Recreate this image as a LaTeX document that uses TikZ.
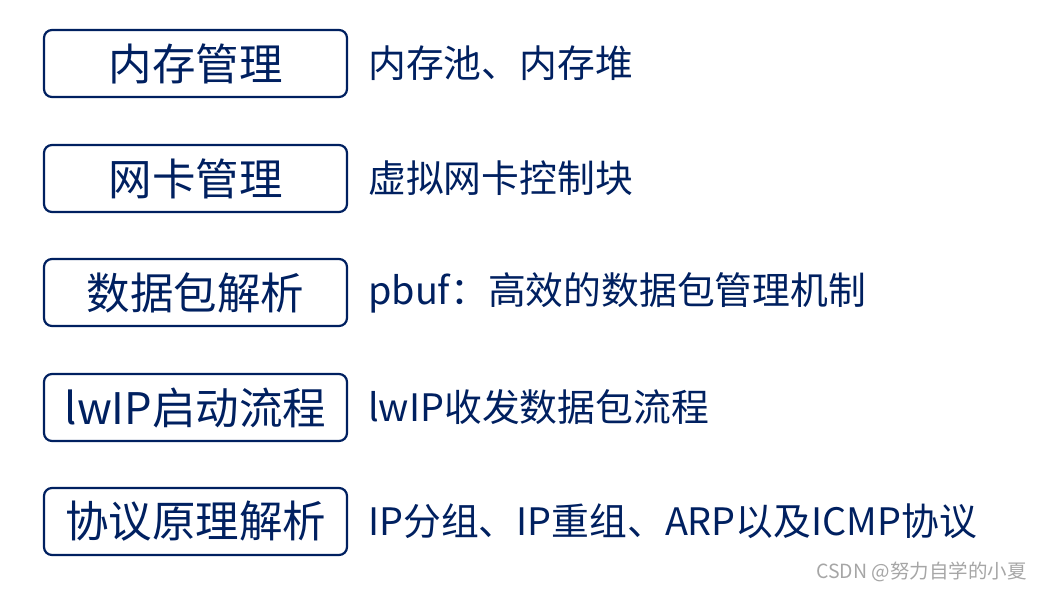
\documentclass[tikz,border=0pt]{standalone}
\usepackage{fontspec}
\setmainfont{Noto Sans CJK SC}
\definecolor{navy}{RGB}{0,32,96}
\begin{document}
\begin{tikzpicture}[x=1pt,y=-1pt,
  box/.style={draw=navy,line width=2.2pt,rounded corners=8pt,minimum width=303pt,minimum height=67pt,text=navy,font=\fontsize{43.5}{46}\selectfont,inner sep=0pt},
  desc/.style={anchor=west,text=navy,font=\fontsize{37.8}{40}\selectfont,inner sep=0pt}]
\useasboundingbox (0,0) rectangle (1041,591);
\node[box] (b1) at (195.5,63.5) {内存管理};
\node[box] (b2) at (195.5,178.5) {网卡管理};
\node[box] (b3) at (195.5,292.5) {数据包解析};
\node[box] (b4) at (195.5,407.5) {lwIP启动流程};
\node[box] (b5) at (195.5,521.5) {协议原理解析};
\node[desc] (d1) at (368,63.5) {内存池、内存堆};
\node[desc] (d2) at (368,178.5) {虚拟网卡控制块};
\node[desc] (d3) at (368,292.5) {pbuf：高效的数据包管理机制};
\node[desc] (d4) at (368,407.5) {lwIP收发数据包流程};
\node[desc] (d5) at (368,521.5) {IP分组、IP重组、ARP以及ICMP协议};
\node[anchor=east,text=gray!70,font=\fontsize{19.5}{21}\selectfont,inner sep=0pt] (wm) at (1027,572) {CSDN @努力自学的小夏};
\end{tikzpicture}
\end{document}
